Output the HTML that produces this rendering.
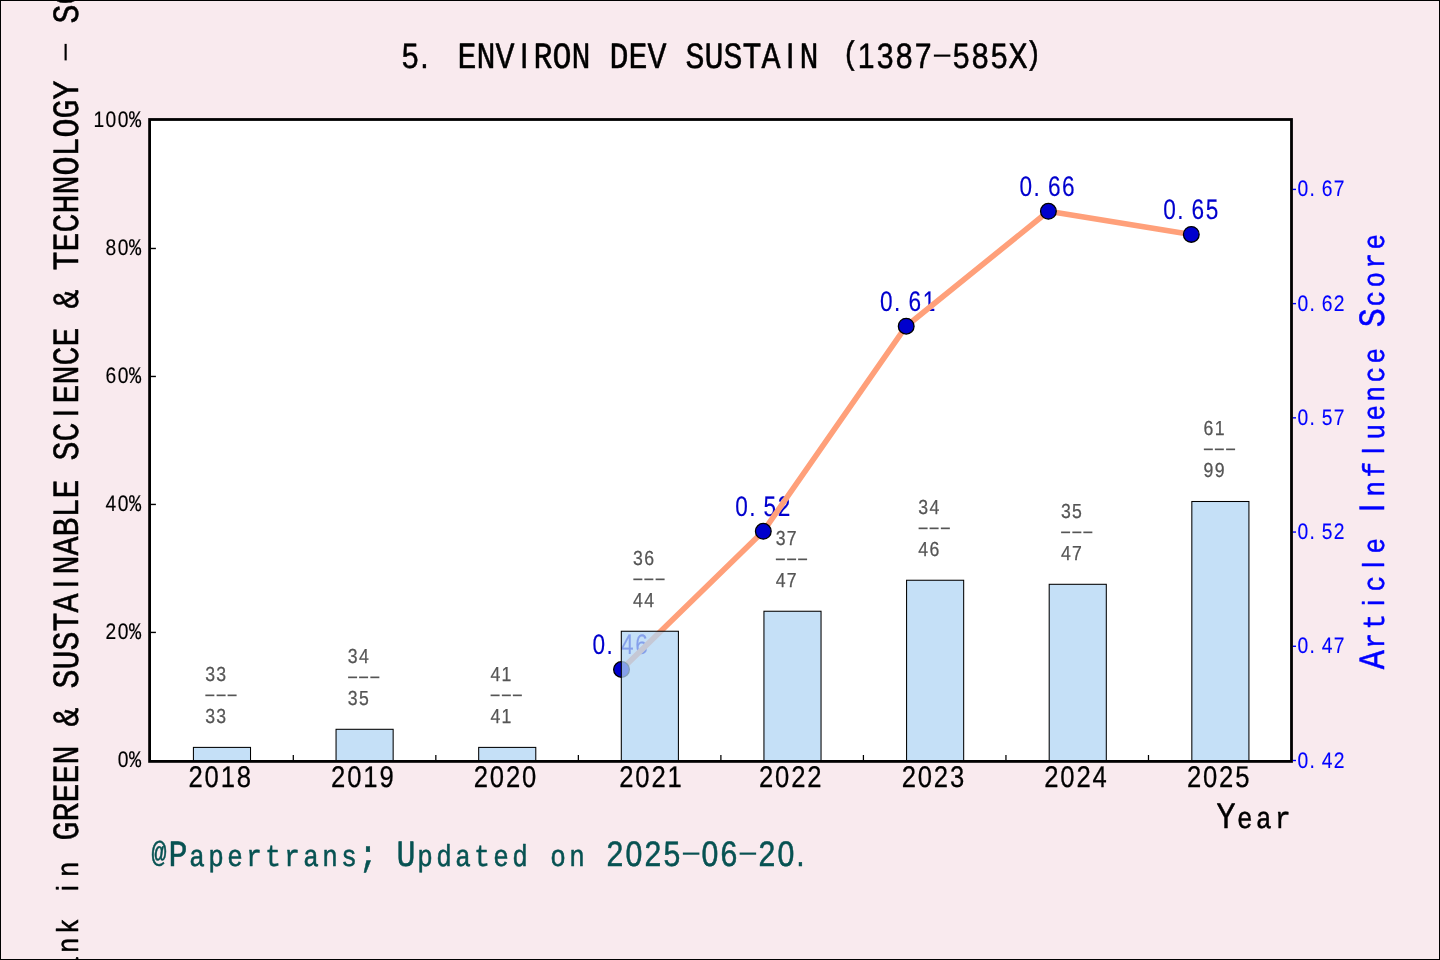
<!DOCTYPE html>
<html lang="en"><head><meta charset="utf-8"><title>5. ENVIRON DEV SUSTAIN (1387-585X)</title>
<style>
html,body{margin:0;padding:0;background:#f9eaee;}
body{width:1440px;height:960px;overflow:hidden;}
svg{display:block;font-family:"Liberation Mono", monospace;}
text{white-space:pre;stroke-linejoin:round;text-rendering:geometricPrecision;}
.s{font-family:"Liberation Sans",sans-serif;}
</style></head><body>
<svg width="1440" height="960" viewBox="0 0 1440 960">
<rect x="0" y="0" width="1440" height="960" fill="#f9eaee"/>
<rect x="149.6" y="119.5" width="1141.90" height="641.90" fill="#fff"/>
<text xml:space="preserve" transform="translate(400.60,68.10) scale(0.8559,1)" font-size="37.00" fill="#000" stroke="#000" stroke-width="0.52"><tspan class="s" font-size="35.34" x="1.28" y="0.00">5</tspan><tspan class="s" font-size="35.15" x="23.09" y="0.00">.</tspan><tspan x="44.40 66.60 88.80 111.00" y="0.00"> ENV</tspan><tspan class="s" font-size="35.45" x="139.37" y="0.00">I</tspan><tspan x="155.40 177.60 199.80 222.00 244.20 266.40 288.60 310.80 333.00 355.20 377.40 399.60 421.80" y="0.00">RON DEV SUSTA</tspan><tspan class="s" font-size="35.45" x="450.17" y="0.00">I</tspan><tspan x="466.20 488.40" y="0.00">N </tspan><tspan font-size="32.74" x="516.09" y="-3.81">(</tspan><tspan class="s" font-size="35.34" x="534.08 556.28 578.48 600.68" y="0.00">1387</tspan><tspan font-size="27.75" x="611.50" y="-4.98" textLength="42.40" lengthAdjust="spacingAndGlyphs" stroke="none">-</tspan><tspan class="s" font-size="35.34" x="645.08 667.28 689.48" y="0.00">585</tspan><tspan x="710.40" y="0.00">X</tspan><tspan font-size="32.74" x="729.21" y="-3.81">)</tspan></text>
<text xml:space="preserve" transform="translate(149.50,865.50) scale(0.8559,1)" font-size="37.00" fill="#075252" stroke="#075252" stroke-width="0.52"><tspan font-size="29.23" x="2.33" y="-3.44">@</tspan><tspan x="22.20" y="0.00">P</tspan><tspan font-size="30.34" x="46.40 68.60 90.80 113.00 135.20 157.40 179.60 201.80 224.00" y="0.00">apertrans</tspan><tspan x="244.20 266.40 288.60" y="0.00">; U</tspan><tspan font-size="30.34" x="312.80 335.00 357.20 379.40 401.60 423.80" y="0.00">pdated</tspan><tspan x="444.00" y="0.00"> </tspan><tspan font-size="30.34" x="468.20 490.40" y="0.00">on</tspan><tspan x="510.60" y="0.00"> </tspan><tspan class="s" font-size="35.34" x="534.08 556.28 578.48 600.68" y="0.00">2025</tspan><tspan font-size="27.75" x="611.50" y="-4.98" textLength="42.40" lengthAdjust="spacingAndGlyphs" stroke="none">-</tspan><tspan class="s" font-size="35.34" x="645.08 667.28" y="0.00">06</tspan><tspan font-size="27.75" x="678.10" y="-4.98" textLength="42.40" lengthAdjust="spacingAndGlyphs" stroke="none">-</tspan><tspan class="s" font-size="35.34" x="711.68 733.88" y="0.00">20</tspan><tspan class="s" font-size="35.15" x="755.69" y="0.00">.</tspan></text>
<text xml:space="preserve" transform="translate(1216.40,827.60) scale(0.8559,1)" font-size="37.00" fill="#000" stroke="#000" stroke-width="0.52"><tspan x="0.00" y="0.00">Y</tspan><tspan font-size="30.34" x="24.20 46.40 68.60" y="0.00">ear</tspan></text>
<text xml:space="preserve" transform="translate(78.10,992.60) rotate(-90) scale(0.8559,1)" font-size="37.00" fill="#000" stroke="#000" stroke-width="0.52"><tspan x="0.00" y="0.00">R</tspan><tspan font-size="30.34" x="24.20 46.40 68.60" y="0.00">ank</tspan><tspan x="88.80" y="0.00"> </tspan><tspan class="s" font-size="30.34" x="118.73" y="0.00">i</tspan><tspan font-size="30.34" x="135.20" y="0.00">n</tspan><tspan x="155.40 177.60 199.80 222.00 244.20 266.40 288.60 310.80 333.00 355.20 377.40 399.60 421.80 444.00" y="0.00"> GREEN &amp; SUSTA</tspan><tspan class="s" font-size="35.45" x="472.37" y="0.00">I</tspan><tspan x="488.40 510.60 532.80 555.00 577.20 599.40 621.60 643.80" y="0.00">NABLE SC</tspan><tspan class="s" font-size="35.45" x="672.17" y="0.00">I</tspan><tspan x="688.20 710.40 732.60 754.80 777.00 799.20 821.40 843.60 865.80 888.00 910.20 932.40 954.60 976.80 999.00 1021.20 1043.40 1065.60" y="0.00">ENCE &amp; TECHNOLOGY </tspan><tspan font-size="27.75" x="1077.70" y="-4.98" textLength="42.40" lengthAdjust="spacingAndGlyphs" stroke="none">-</tspan><tspan x="1110.00 1132.20 1154.40" y="0.00"> SC</tspan><tspan class="s" font-size="35.45" x="1182.77" y="0.00">I</tspan><tspan x="1198.80" y="0.00">E</tspan></text>
<text xml:space="preserve" transform="translate(1384.00,669.30) rotate(-90) scale(0.8559,1)" font-size="37.00" fill="#0000ff" stroke="#0000ff" stroke-width="0.52"><tspan x="0.00" y="0.00">A</tspan><tspan font-size="30.34" x="24.20 46.40" y="0.00">rt</tspan><tspan class="s" font-size="30.34" x="74.33" y="0.00">i</tspan><tspan font-size="30.34" x="90.80" y="0.00">c</tspan><tspan class="s" font-size="30.34" x="118.73" y="0.00">l</tspan><tspan font-size="30.34" x="135.20" y="0.00">e</tspan><tspan x="155.40" y="0.00"> </tspan><tspan class="s" font-size="35.45" x="183.77" y="0.00">I</tspan><tspan font-size="30.34" x="201.80 224.00" y="0.00">nf</tspan><tspan class="s" font-size="30.34" x="251.93" y="0.00">l</tspan><tspan font-size="30.34" x="268.40 290.60 312.80 335.00 357.20" y="0.00">uence</tspan><tspan x="377.40 399.60" y="0.00"> S</tspan><tspan font-size="30.34" x="423.80 446.00 468.20 490.40" y="0.00">core</tspan></text>
<text xml:space="preserve" transform="translate(591.80,654.10) scale(0.8009,1)" font-size="29.55" fill="#0000cd" stroke="#0000cd" stroke-width="0.18"><tspan class="s" font-size="28.22" x="1.02" y="0.00">0</tspan><tspan class="s" font-size="28.07" x="18.44" y="0.00">.</tspan><tspan class="s" font-size="28.22" x="36.48 54.21" y="0.00">46</tspan></text>
<text xml:space="preserve" transform="translate(734.40,515.90) scale(0.8009,1)" font-size="29.55" fill="#0000cd" stroke="#0000cd" stroke-width="0.18"><tspan class="s" font-size="28.22" x="1.02" y="0.00">0</tspan><tspan class="s" font-size="28.07" x="18.44" y="0.00">.</tspan><tspan class="s" font-size="28.22" x="36.48 54.21" y="0.00">52</tspan></text>
<text xml:space="preserve" transform="translate(879.30,310.80) scale(0.8009,1)" font-size="29.55" fill="#0000cd" stroke="#0000cd" stroke-width="0.18"><tspan class="s" font-size="28.22" x="1.02" y="0.00">0</tspan><tspan class="s" font-size="28.07" x="18.44" y="0.00">.</tspan><tspan class="s" font-size="28.22" x="36.48 54.21" y="0.00">61</tspan></text>
<text xml:space="preserve" transform="translate(1018.70,195.90) scale(0.8009,1)" font-size="29.55" fill="#0000cd" stroke="#0000cd" stroke-width="0.18"><tspan class="s" font-size="28.22" x="1.02" y="0.00">0</tspan><tspan class="s" font-size="28.07" x="18.44" y="0.00">.</tspan><tspan class="s" font-size="28.22" x="36.48 54.21" y="0.00">66</tspan></text>
<text xml:space="preserve" transform="translate(1162.40,219.00) scale(0.8009,1)" font-size="29.55" fill="#0000cd" stroke="#0000cd" stroke-width="0.18"><tspan class="s" font-size="28.22" x="1.02" y="0.00">0</tspan><tspan class="s" font-size="28.07" x="18.44" y="0.00">.</tspan><tspan class="s" font-size="28.22" x="36.48 54.21" y="0.00">65</tspan></text>
<polyline fill="none" stroke="#ffa07a" stroke-width="5.6" stroke-linejoin="round" points="621.5,669.5 763.3,531.3 906.2,326.2 1048.4,211.3 1191.3,234.4"/>
<circle cx="621.5" cy="669.5" r="7.85" fill="#0000cd" stroke="#000" stroke-width="1.3"/>
<circle cx="763.3" cy="531.3" r="7.85" fill="#0000cd" stroke="#000" stroke-width="1.3"/>
<circle cx="906.2" cy="326.2" r="7.85" fill="#0000cd" stroke="#000" stroke-width="1.3"/>
<circle cx="1048.4" cy="211.3" r="7.85" fill="#0000cd" stroke="#000" stroke-width="1.3"/>
<circle cx="1191.3" cy="234.4" r="7.85" fill="#0000cd" stroke="#000" stroke-width="1.3"/>
<rect x="193.42" y="747.40" width="57.10" height="14.00" fill="#b2d6f4" fill-opacity="0.75" stroke="#000" stroke-width="1.05"/>
<text xml:space="preserve" transform="translate(204.57,681.20) scale(0.8706,1)" font-size="21.25" fill="#555" stroke="#555" stroke-width="0.26"><tspan class="s" font-size="20.29" x="0.73 13.48" y="0.00">33</tspan></text>
<text transform="translate(200.07,700.80) scale(1.545,1)" font-size="21.25" letter-spacing="-5.566" fill="#555">---</text>
<text xml:space="preserve" transform="translate(204.57,723.30) scale(0.8706,1)" font-size="21.25" fill="#555" stroke="#555" stroke-width="0.26"><tspan class="s" font-size="20.29" x="0.73 13.48" y="0.00">33</tspan></text>
<rect x="336.05" y="729.30" width="57.10" height="32.10" fill="#b2d6f4" fill-opacity="0.75" stroke="#000" stroke-width="1.05"/>
<text xml:space="preserve" transform="translate(347.20,663.10) scale(0.8706,1)" font-size="21.25" fill="#555" stroke="#555" stroke-width="0.26"><tspan class="s" font-size="20.29" x="0.73 13.48" y="0.00">34</tspan></text>
<text transform="translate(342.70,682.70) scale(1.545,1)" font-size="21.25" letter-spacing="-5.566" fill="#555">---</text>
<text xml:space="preserve" transform="translate(347.20,705.20) scale(0.8706,1)" font-size="21.25" fill="#555" stroke="#555" stroke-width="0.26"><tspan class="s" font-size="20.29" x="0.73 13.48" y="0.00">35</tspan></text>
<rect x="478.68" y="747.40" width="57.10" height="14.00" fill="#b2d6f4" fill-opacity="0.75" stroke="#000" stroke-width="1.05"/>
<text xml:space="preserve" transform="translate(489.83,681.20) scale(0.8706,1)" font-size="21.25" fill="#555" stroke="#555" stroke-width="0.26"><tspan class="s" font-size="20.29" x="0.73 13.48" y="0.00">41</tspan></text>
<text transform="translate(485.33,700.80) scale(1.545,1)" font-size="21.25" letter-spacing="-5.566" fill="#555">---</text>
<text xml:space="preserve" transform="translate(489.83,723.30) scale(0.8706,1)" font-size="21.25" fill="#555" stroke="#555" stroke-width="0.26"><tspan class="s" font-size="20.29" x="0.73 13.48" y="0.00">41</tspan></text>
<rect x="621.31" y="631.25" width="57.10" height="130.15" fill="#b2d6f4" fill-opacity="0.75" stroke="#000" stroke-width="1.05"/>
<text xml:space="preserve" transform="translate(632.46,565.05) scale(0.8706,1)" font-size="21.25" fill="#555" stroke="#555" stroke-width="0.26"><tspan class="s" font-size="20.29" x="0.73 13.48" y="0.00">36</tspan></text>
<text transform="translate(627.96,584.65) scale(1.545,1)" font-size="21.25" letter-spacing="-5.566" fill="#555">---</text>
<text xml:space="preserve" transform="translate(632.46,607.15) scale(0.8706,1)" font-size="21.25" fill="#555" stroke="#555" stroke-width="0.26"><tspan class="s" font-size="20.29" x="0.73 13.48" y="0.00">44</tspan></text>
<rect x="763.94" y="611.25" width="57.10" height="150.15" fill="#b2d6f4" fill-opacity="0.75" stroke="#000" stroke-width="1.05"/>
<text xml:space="preserve" transform="translate(775.09,545.05) scale(0.8706,1)" font-size="21.25" fill="#555" stroke="#555" stroke-width="0.26"><tspan class="s" font-size="20.29" x="0.73 13.48" y="0.00">37</tspan></text>
<text transform="translate(770.59,564.65) scale(1.545,1)" font-size="21.25" letter-spacing="-5.566" fill="#555">---</text>
<text xml:space="preserve" transform="translate(775.09,587.15) scale(0.8706,1)" font-size="21.25" fill="#555" stroke="#555" stroke-width="0.26"><tspan class="s" font-size="20.29" x="0.73 13.48" y="0.00">47</tspan></text>
<rect x="906.57" y="580.25" width="57.10" height="181.15" fill="#b2d6f4" fill-opacity="0.75" stroke="#000" stroke-width="1.05"/>
<text xml:space="preserve" transform="translate(917.72,514.05) scale(0.8706,1)" font-size="21.25" fill="#555" stroke="#555" stroke-width="0.26"><tspan class="s" font-size="20.29" x="0.73 13.48" y="0.00">34</tspan></text>
<text transform="translate(913.22,533.65) scale(1.545,1)" font-size="21.25" letter-spacing="-5.566" fill="#555">---</text>
<text xml:space="preserve" transform="translate(917.72,556.15) scale(0.8706,1)" font-size="21.25" fill="#555" stroke="#555" stroke-width="0.26"><tspan class="s" font-size="20.29" x="0.73 13.48" y="0.00">46</tspan></text>
<rect x="1049.20" y="584.30" width="57.10" height="177.10" fill="#b2d6f4" fill-opacity="0.75" stroke="#000" stroke-width="1.05"/>
<text xml:space="preserve" transform="translate(1060.35,518.10) scale(0.8706,1)" font-size="21.25" fill="#555" stroke="#555" stroke-width="0.26"><tspan class="s" font-size="20.29" x="0.73 13.48" y="0.00">35</tspan></text>
<text transform="translate(1055.85,537.70) scale(1.545,1)" font-size="21.25" letter-spacing="-5.566" fill="#555">---</text>
<text xml:space="preserve" transform="translate(1060.35,560.20) scale(0.8706,1)" font-size="21.25" fill="#555" stroke="#555" stroke-width="0.26"><tspan class="s" font-size="20.29" x="0.73 13.48" y="0.00">47</tspan></text>
<rect x="1191.83" y="501.50" width="57.10" height="259.90" fill="#b2d6f4" fill-opacity="0.75" stroke="#000" stroke-width="1.05"/>
<text xml:space="preserve" transform="translate(1202.98,435.30) scale(0.8706,1)" font-size="21.25" fill="#555" stroke="#555" stroke-width="0.26"><tspan class="s" font-size="20.29" x="0.73 13.48" y="0.00">61</tspan></text>
<text transform="translate(1198.48,454.90) scale(1.545,1)" font-size="21.25" letter-spacing="-5.566" fill="#555">---</text>
<text xml:space="preserve" transform="translate(1202.98,477.40) scale(0.8706,1)" font-size="21.25" fill="#555" stroke="#555" stroke-width="0.26"><tspan class="s" font-size="20.29" x="0.73 13.48" y="0.00">99</tspan></text>
<line x1="293.30" y1="760.20" x2="293.30" y2="755" stroke="#000" stroke-width="1.25"/>
<line x1="435.83" y1="760.20" x2="435.83" y2="755" stroke="#000" stroke-width="1.25"/>
<line x1="578.36" y1="760.20" x2="578.36" y2="755" stroke="#000" stroke-width="1.25"/>
<line x1="720.89" y1="760.20" x2="720.89" y2="755" stroke="#000" stroke-width="1.25"/>
<line x1="863.42" y1="760.20" x2="863.42" y2="755" stroke="#000" stroke-width="1.25"/>
<line x1="1005.95" y1="760.20" x2="1005.95" y2="755" stroke="#000" stroke-width="1.25"/>
<line x1="1148.48" y1="760.20" x2="1148.48" y2="755" stroke="#000" stroke-width="1.25"/>
<text xml:space="preserve" transform="translate(117.00,767.00) scale(0.8545,1)" font-size="23.60" fill="#000" stroke="#000" stroke-width="0.14"><tspan class="s" font-size="22.54" x="0.81" y="0.00">0</tspan><tspan x="14.16" y="0.00">%</tspan></text>
<line x1="150.90" y1="632.42" x2="155.9" y2="632.42" stroke="#000" stroke-width="1.4"/>
<text xml:space="preserve" transform="translate(104.90,639.02) scale(0.8545,1)" font-size="23.60" fill="#000" stroke="#000" stroke-width="0.14"><tspan class="s" font-size="22.54" x="0.81 14.97" y="0.00">20</tspan><tspan x="28.32" y="0.00">%</tspan></text>
<line x1="150.90" y1="504.44" x2="155.9" y2="504.44" stroke="#000" stroke-width="1.4"/>
<text xml:space="preserve" transform="translate(104.90,511.04) scale(0.8545,1)" font-size="23.60" fill="#000" stroke="#000" stroke-width="0.14"><tspan class="s" font-size="22.54" x="0.81 14.97" y="0.00">40</tspan><tspan x="28.32" y="0.00">%</tspan></text>
<line x1="150.90" y1="376.46" x2="155.9" y2="376.46" stroke="#000" stroke-width="1.4"/>
<text xml:space="preserve" transform="translate(104.90,383.06) scale(0.8545,1)" font-size="23.60" fill="#000" stroke="#000" stroke-width="0.14"><tspan class="s" font-size="22.54" x="0.81 14.97" y="0.00">60</tspan><tspan x="28.32" y="0.00">%</tspan></text>
<line x1="150.90" y1="248.48" x2="155.9" y2="248.48" stroke="#000" stroke-width="1.4"/>
<text xml:space="preserve" transform="translate(104.90,255.08) scale(0.8545,1)" font-size="23.60" fill="#000" stroke="#000" stroke-width="0.14"><tspan class="s" font-size="22.54" x="0.81 14.97" y="0.00">80</tspan><tspan x="28.32" y="0.00">%</tspan></text>
<text xml:space="preserve" transform="translate(92.80,127.10) scale(0.8545,1)" font-size="23.60" fill="#000" stroke="#000" stroke-width="0.14"><tspan class="s" font-size="22.54" x="0.81 14.97 29.13" y="0.00">100</tspan><tspan x="42.48" y="0.00">%</tspan></text>
<line x1="1292.80" y1="760.50" x2="1296" y2="760.50" stroke="#0000ff" stroke-width="1.4"/>
<text xml:space="preserve" transform="translate(1296.85,767.50) scale(0.8545,1)" font-size="23.60" fill="#0000ff" stroke="#0000ff" stroke-width="0.14"><tspan class="s" font-size="22.54" x="0.81" y="0.00">0</tspan><tspan class="s" font-size="22.42" x="14.73" y="0.00">.</tspan><tspan class="s" font-size="22.54" x="29.13 43.29" y="0.00">42</tspan></text>
<line x1="1292.80" y1="646.28" x2="1296" y2="646.28" stroke="#0000ff" stroke-width="1.4"/>
<text xml:space="preserve" transform="translate(1296.85,653.28) scale(0.8545,1)" font-size="23.60" fill="#0000ff" stroke="#0000ff" stroke-width="0.14"><tspan class="s" font-size="22.54" x="0.81" y="0.00">0</tspan><tspan class="s" font-size="22.42" x="14.73" y="0.00">.</tspan><tspan class="s" font-size="22.54" x="29.13 43.29" y="0.00">47</tspan></text>
<line x1="1292.80" y1="532.06" x2="1296" y2="532.06" stroke="#0000ff" stroke-width="1.4"/>
<text xml:space="preserve" transform="translate(1296.85,539.06) scale(0.8545,1)" font-size="23.60" fill="#0000ff" stroke="#0000ff" stroke-width="0.14"><tspan class="s" font-size="22.54" x="0.81" y="0.00">0</tspan><tspan class="s" font-size="22.42" x="14.73" y="0.00">.</tspan><tspan class="s" font-size="22.54" x="29.13 43.29" y="0.00">52</tspan></text>
<line x1="1292.80" y1="417.84" x2="1296" y2="417.84" stroke="#0000ff" stroke-width="1.4"/>
<text xml:space="preserve" transform="translate(1296.85,424.84) scale(0.8545,1)" font-size="23.60" fill="#0000ff" stroke="#0000ff" stroke-width="0.14"><tspan class="s" font-size="22.54" x="0.81" y="0.00">0</tspan><tspan class="s" font-size="22.42" x="14.73" y="0.00">.</tspan><tspan class="s" font-size="22.54" x="29.13 43.29" y="0.00">57</tspan></text>
<line x1="1292.80" y1="303.62" x2="1296" y2="303.62" stroke="#0000ff" stroke-width="1.4"/>
<text xml:space="preserve" transform="translate(1296.85,310.62) scale(0.8545,1)" font-size="23.60" fill="#0000ff" stroke="#0000ff" stroke-width="0.14"><tspan class="s" font-size="22.54" x="0.81" y="0.00">0</tspan><tspan class="s" font-size="22.42" x="14.73" y="0.00">.</tspan><tspan class="s" font-size="22.54" x="29.13 43.29" y="0.00">62</tspan></text>
<line x1="1292.80" y1="189.40" x2="1296" y2="189.40" stroke="#0000ff" stroke-width="1.4"/>
<text xml:space="preserve" transform="translate(1296.85,196.40) scale(0.8545,1)" font-size="23.60" fill="#0000ff" stroke="#0000ff" stroke-width="0.14"><tspan class="s" font-size="22.54" x="0.81" y="0.00">0</tspan><tspan class="s" font-size="22.42" x="14.73" y="0.00">.</tspan><tspan class="s" font-size="22.54" x="29.13 43.29" y="0.00">67</tspan></text>
<text xml:space="preserve" transform="translate(187.57,787.30) scale(0.8546,1)" font-size="31.40" fill="#000" stroke="#000" stroke-width="0.28"><tspan class="s" font-size="29.99" x="1.08 19.92 38.76 57.60" y="0.00">2018</tspan></text>
<text xml:space="preserve" transform="translate(330.20,787.30) scale(0.8546,1)" font-size="31.40" fill="#000" stroke="#000" stroke-width="0.28"><tspan class="s" font-size="29.99" x="1.08 19.92 38.76 57.60" y="0.00">2019</tspan></text>
<text xml:space="preserve" transform="translate(472.83,787.30) scale(0.8546,1)" font-size="31.40" fill="#000" stroke="#000" stroke-width="0.28"><tspan class="s" font-size="29.99" x="1.08 19.92 38.76 57.60" y="0.00">2020</tspan></text>
<text xml:space="preserve" transform="translate(618.36,787.30) scale(0.8546,1)" font-size="31.40" fill="#000" stroke="#000" stroke-width="0.28"><tspan class="s" font-size="29.99" x="1.08 19.92 38.76 57.60" y="0.00">2021</tspan></text>
<text xml:space="preserve" transform="translate(758.09,787.30) scale(0.8546,1)" font-size="31.40" fill="#000" stroke="#000" stroke-width="0.28"><tspan class="s" font-size="29.99" x="1.08 19.92 38.76 57.60" y="0.00">2022</tspan></text>
<text xml:space="preserve" transform="translate(900.72,787.30) scale(0.8546,1)" font-size="31.40" fill="#000" stroke="#000" stroke-width="0.28"><tspan class="s" font-size="29.99" x="1.08 19.92 38.76 57.60" y="0.00">2023</tspan></text>
<text xml:space="preserve" transform="translate(1043.35,787.30) scale(0.8546,1)" font-size="31.40" fill="#000" stroke="#000" stroke-width="0.28"><tspan class="s" font-size="29.99" x="1.08 19.92 38.76 57.60" y="0.00">2024</tspan></text>
<text xml:space="preserve" transform="translate(1185.98,787.30) scale(0.8546,1)" font-size="31.40" fill="#000" stroke="#000" stroke-width="0.28"><tspan class="s" font-size="29.99" x="1.08 19.92 38.76 57.60" y="0.00">2025</tspan></text>
<rect x="149.6" y="119.5" width="1141.90" height="641.90" fill="none" stroke="#000" stroke-width="2.8"/>
<rect x="0.5" y="0.5" width="1439" height="959" fill="none" stroke="#000" stroke-width="1"/>
</svg>
</body></html>
